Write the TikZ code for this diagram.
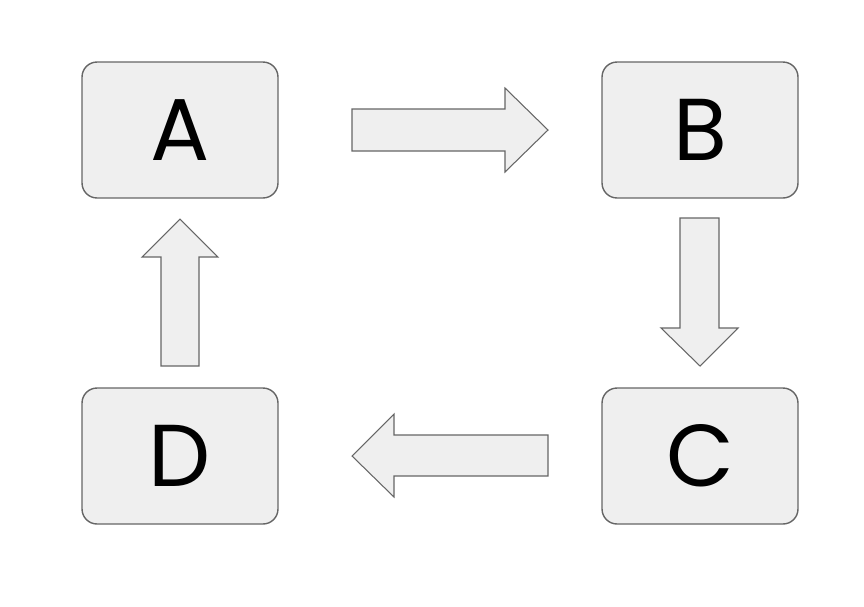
\documentclass[tikz,border=0pt]{standalone}
\usepackage{fontspec}
\setmainfont{Poppins}
\usetikzlibrary{positioning}
\definecolor{boxfill}{HTML}{EFEFEF}
\definecolor{boxline}{HTML}{666666}
\tikzset{
  x=0.02cm, y=-0.02cm,
  letter box/.style={
    draw=boxline,
    fill=boxfill,
    line width=0.8pt,
    rounded corners=0.3cm,
    minimum width=3.92cm,
    minimum height=2.72cm,
    inner sep=0pt,
    font=\fontsize{50}{50}\selectfont
  },
  block arrow/.style={
    draw=boxline,
    fill=boxfill,
    line width=0.6pt
  }
}
\begin{document}
\begin{tikzpicture}
\useasboundingbox (0,0) rectangle (864,606);
\node[letter box] (a) at (180,130) {A};
\node[letter box] (b) at (700,130) {B};
\node[letter box] (c) at (700,456) {C};
\node[letter box] (d) at (180,456) {D};
% A to B
\draw[block arrow] (352,109) -- (505,109) -- (505,88) -- (548,130)
  -- (505,172) -- (505,151) -- (352,151) -- cycle;
% B to C
\draw[block arrow] (680,218) -- (719,218) -- (719,328) -- (738,328)
  -- (700,366) -- (661,328) -- (680,328) -- cycle;
% C to D
\draw[block arrow] (548,435) -- (394,435) -- (394,414) -- (352,456)
  -- (394,497) -- (394,476) -- (548,476) -- cycle;
% D to A
\draw[block arrow] (161,366) -- (161,257) -- (142,257) -- (180,219)
  -- (218,257) -- (199,257) -- (199,366) -- cycle;
\end{tikzpicture}
\end{document}
